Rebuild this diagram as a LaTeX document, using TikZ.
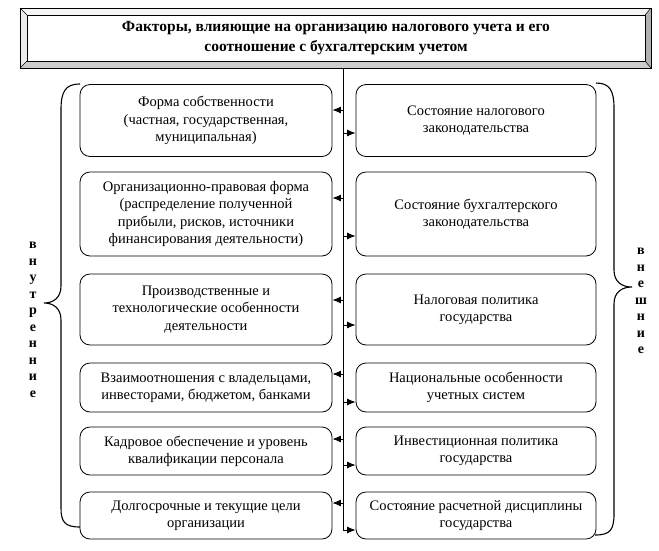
\documentclass[tikz,border=0pt]{standalone}
\usepackage{fontspec}
\setmainfont{Liberation Serif}
\usetikzlibrary{arrows.meta, calc, backgrounds}

\begin{document}
\begin{tikzpicture}[x=1pt, y=-1pt,
  background rectangle/.style={fill=white}, show background rectangle,
  factor/.style={draw, line width=0.8pt, rounded corners=10pt, align=center,
    font=\fontsize{14.5}{17.3}\selectfont, inner sep=2pt},
  arw/.style={-{Latex[length=8.5pt, width=7pt]}, line width=1pt},
  side/.style={align=center, font=\bfseries\fontsize{14}{16.5}\selectfont}]
\useasboundingbox (0,0) rectangle (659,550);
\pgfmathsetmacro{\xspine}{343}

% title with bevelled frame
\fill [gray!8]  (20,8) -- (651,8) -- (645,15) -- (27,15) -- cycle;
\fill [gray!15] (20,8) -- (27,15) -- (27,61) -- (20,68) -- cycle;
\fill [gray!40] (20,68) -- (27,61) -- (645,61) -- (651,68) -- cycle;
\fill [gray!60] (651,8) -- (645,15) -- (645,61) -- (651,68) -- cycle;
\draw [line width=0.8pt] (20,8) rectangle (651,68);
\draw [line width=0.5pt] (20,8) -- (27,15) (651,8) -- (645,15) (20,68) -- (27,61) (651,68) -- (645,61);
\node [draw, line width=0.8pt, minimum width=618pt, minimum height=46pt, inner sep=0pt, align=center,
  font=\bfseries\fontsize{15.5}{20}\selectfont] (title) at (336,38)
  {Факторы, влияющие на организацию налогового учета и его\\соотношение с бухгалтерским учетом};

% left column
\node [factor, minimum width=252pt, minimum height=72pt] (L1) at (206,120.5)
  {Форма собственности\\(частная, государственная,\\муниципальная)};
\node [factor, minimum width=252pt, minimum height=84pt] (L2) at (206,214)
  {Организационно-правовая форма\\(распределение полученной\\прибыли, рисков, источники\\финансирования деятельности)};
\node [factor, minimum width=252pt, minimum height=71pt] (L3) at (206,309.5)
  {Производственные и\\технологические особенности\\деятельности};
\node [factor, minimum width=252pt, minimum height=49pt] (L4) at (206,387.5)
  {Взаимоотношения с владельцами,\\инвесторами, бюджетом, банками};
\node [factor, minimum width=252pt, minimum height=48pt] (L5) at (206,451)
  {Кадровое обеспечение и уровень\\квалификации персонала};
\node [factor, minimum width=252pt, minimum height=47pt] (L6) at (206,515.5)
  {Долгосрочные и текущие цели\\организации};

% right column
\node [factor, minimum width=240pt, minimum height=72pt] (R1) at (476,120.5)
  {Состояние налогового\\законодательства};
\node [factor, minimum width=240pt, minimum height=84pt] (R2) at (476,214)
  {Состояние бухгалтерского\\законодательства};
\node [factor, minimum width=240pt, minimum height=71pt] (R3) at (476,309.5)
  {Налоговая политика\\государства};
\node [factor, minimum width=240pt, minimum height=49pt] (R4) at (476,387.5)
  {Национальные особенности\\учетных систем};
\node [factor, minimum width=240pt, minimum height=48pt] (R5) at (476,451)
  {Инвестиционная политика\\государства};
\node [factor, minimum width=240pt, minimum height=47pt] (R6) at (476,515.5)
  {Состояние расчетной дисциплины\\государства};

% spine and arrows
\coordinate (top) at (\xspine,68);
\coordinate (bot) at (\xspine,530);
\draw [line width=1pt] (top) -- (bot);
\foreach \n/\a/\b in {1/110/133, 2/198/236, 3/300/325, 4/374/402, 5/439/465, 6/503/530}
{
\coordinate (aL\n) at (\xspine,\a);
\coordinate (aR\n) at (\xspine,\b);
\draw [arw] (aL\n) -- (aL\n -| L\n.east);
\draw [arw] (aR\n) -- (aR\n -| R\n.west);
}

% braces
\draw [line width=1.1pt] (80,84) .. controls (65,84) and (61,92) .. (61,110) -- (61,286)
  .. controls (61,298) and (53,303) .. (44,303) .. controls (53,303) and (61,308) .. (61,320)
  -- (61,508) .. controls (61,522) and (65,527) .. (80,527);
\draw [line width=1.1pt] (596,83) .. controls (610,83) and (614,91) .. (614,108) -- (614,270)
  .. controls (614,282) and (622,287) .. (632,287) .. controls (622,287) and (614,292) .. (614,304)
  -- (614,514) .. controls (614,530) and (610,535) .. (595,535);

\node [side] (inner) at (33,320) {в\\н\\у\\т\\р\\е\\н\\н\\и\\е};
\node [side] (outer) at (641,301) {в\\н\\е\\ш\\н\\и\\е};
\end{tikzpicture}
\end{document}
